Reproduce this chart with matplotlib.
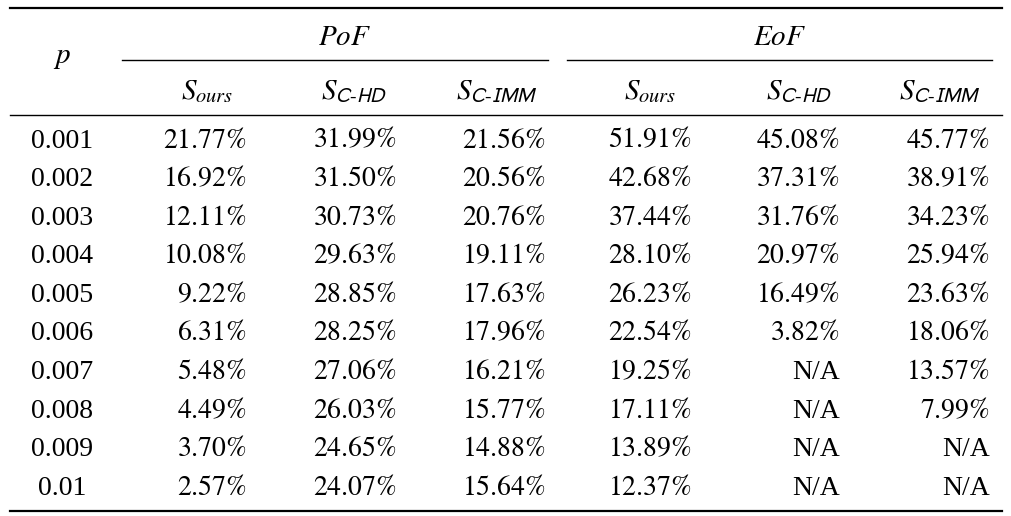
import matplotlib
matplotlib.use("Agg")
import matplotlib.pyplot as plt

plt.rcParams['mathtext.fontset'] = 'stix'
plt.rcParams['font.family'] = ['Liberation Serif', 'DejaVu Serif']

p_values = ["0.001","0.002","0.003","0.004","0.005","0.006","0.007","0.008","0.009","0.01"]
pof_ours = ["21.77","16.92","12.11","10.08","9.22","6.31","5.48","4.49","3.70","2.57"]
pof_chd = ["31.99","31.50","30.73","29.63","28.85","28.25","27.06","26.03","24.65","24.07"]
pof_cimm = ["21.56","20.56","20.76","19.11","17.63","17.96","16.21","15.77","14.88","15.64"]
eof_ours = ["51.91","42.68","37.44","28.10","26.23","22.54","19.25","17.11","13.89","12.37"]
eof_chd = ["45.08","37.31","31.76","20.97","16.49","3.82","N/A","N/A","N/A","N/A"]
eof_cimm = ["45.77","38.91","34.23","25.94","23.63","18.06","13.57","7.99","N/A","N/A"]
groups = ["PoF", "EoF"]
sub_headers = [r"$S_{ours}$", r"$S_{\mathsf{C\text{-}HD}}$", r"$S_{\mathsf{C\text{-}IMM}}$"]

W, H = 1012, 516
fig = plt.figure(figsize=(W/100, H/100), dpi=100)
ax = fig.add_axes([0, 0, 1, 1])
ax.set_xlim(0, W); ax.set_ylim(H, 0); ax.axis('off')

fs = 20
def fmt(v):
    return "N/A" if v == "N/A" else r"$%s\%%$" % v

cols = [pof_ours, pof_chd, pof_cimm, eof_ours, eof_chd, eof_cimm]
right_x = [247, 397, 546, 692, 840, 990]
head_x = [207, 354, 497, 650, 799, 940]

ax.plot([10, 1002], [8, 8], color='black', lw=1.6)
ax.plot([10, 1002], [115, 115], color='black', lw=1.0)
ax.plot([10, 1002], [511, 511], color='black', lw=1.6)
ax.plot([122, 548], [60, 60], color='black', lw=1.0)
ax.plot([567, 992], [60, 60], color='black', lw=1.0)

ax.text(62, 58, r"$p$", fontsize=fs + 1, ha='center', va='center')
ax.text(345, 38, r"$%s$" % groups[0], fontsize=fs + 1, ha='center', va='center')
ax.text(780, 38, r"$%s$" % groups[1], fontsize=fs + 1, ha='center', va='center')
for i, hx in enumerate(head_x):
    ax.text(hx, 92, sub_headers[i % 3], fontsize=fs + 1, ha='center', va='center')

for r, p in enumerate(p_values):
    y = 141 + r * 38.6
    ax.text(62, y, p, fontsize=fs, ha='center', va='center')
    for c, col in enumerate(cols):
        ax.text(right_x[c], y, fmt(col[r]), fontsize=fs, ha='right', va='center')

fig.savefig("out.png", dpi=100)
